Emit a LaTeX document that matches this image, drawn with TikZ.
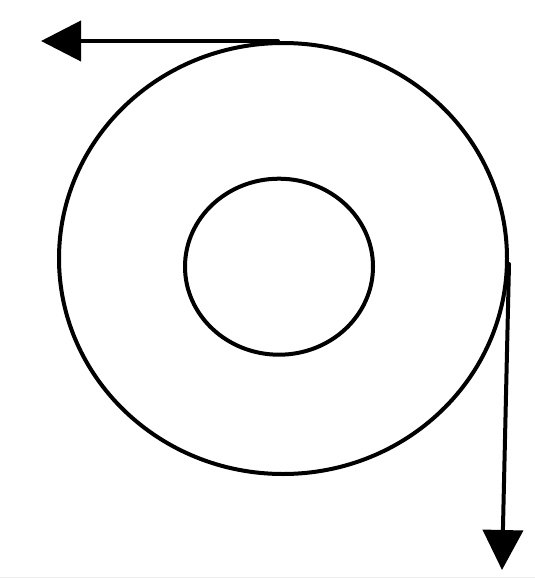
\documentclass[tikz,border=0pt]{standalone}
\usetikzlibrary{arrows.meta}
\begin{document}
\begin{tikzpicture}[x=0.75pt, y=-0.75pt, line width=3pt,
		bigarrow/.style={-{Triangle[length=30pt, width=30pt]}}]
		\useasboundingbox (0,0) rectangle (535,578);

		\draw (283,258.5) ellipse [x radius=224, y radius=215.5];
		\draw (279,266.7) ellipse [x radius=94, y radius=88];

		\coordinate (top) at (278,41);
		\coordinate (left) at (41,41);
		\coordinate (right) at (509,264);
		\coordinate (down) at (502,570);

		\draw[bigarrow, line cap=round] (top) -- (left);
		\draw[bigarrow, line cap=round] (right) -- (down);

		\draw[line width=0.75pt, black!7] (0,577.5) -- (535,577.5);
	\end{tikzpicture}
\end{document}
